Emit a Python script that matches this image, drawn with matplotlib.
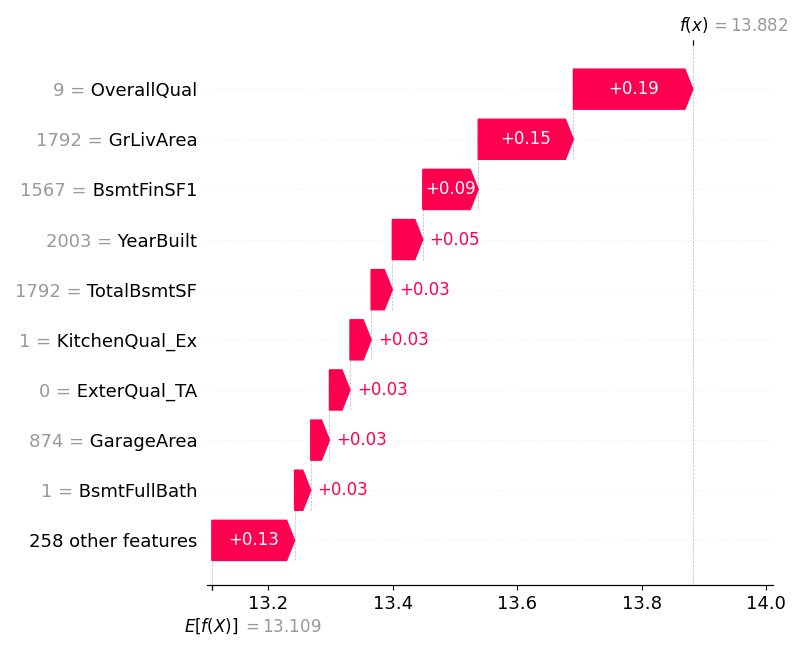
import numpy as np
import matplotlib
matplotlib.use("Agg")
import matplotlib.pyplot as plt
import matplotlib.transforms as mtrans

# ---- data ----
feature_names = ["OverallQual", "GrLivArea", "BsmtFinSF1", "YearBuilt", "TotalBsmtSF",
                 "KitchenQual_Ex", "ExterQual_TA", "GarageArea", "BsmtFullBath"]
feature_values = ["9", "1792", "1567", "2003", "1792", "1", "0", "874", "1"]
shap_values = [0.192, 0.153, 0.089, 0.049, 0.034, 0.034, 0.033, 0.030, 0.026]
other_count = 258
other_value = 0.133
base_value = 13.109

red = (1.0, 0.0, 0.3176)

fx = base_value + sum(shap_values) + other_value
num_features = len(feature_names) + 1

fig = plt.figure(figsize=(8, 6.5), dpi=100)
fig.subplots_adjust(left=0.2588, right=0.9659, top=0.9315, bottom=0.10)
ax = fig.add_subplot(111)
plt.sca(ax)

rows = list(range(num_features - 1, -1, -1))
pos_lefts, pos_inds, pos_widths = [], [], []
name_labels = ["" for _ in range(num_features)]
value_labels = ["" for _ in range(num_features)]
loc = fx
for i, (name, val, sv) in enumerate(zip(feature_names, feature_values, shap_values)):
    loc -= sv
    pos_inds.append(rows[i])
    pos_widths.append(sv)
    pos_lefts.append(loc)
    ax.plot([loc, loc], [rows[i] - 1 - 0.4, rows[i] + 0.4], color="#bbbbbb",
            linestyle="--", linewidth=0.5, zorder=-1)
    name_labels[rows[i]] = " " + name
    value_labels[rows[i]] = val + " ="

name_labels[0] = "%d other features" % other_count
pos_inds.append(0)
pos_widths.append(other_value)
pos_lefts.append(base_value)

pos_lefts = np.array(pos_lefts)
pos_widths = np.array(pos_widths)
points = list(pos_lefts) + list(pos_lefts + pos_widths)
dataw = np.max(points) - np.min(points)

label_padding = np.array([0.1 * dataw if w < 1 else 0 for w in pos_widths])
ax.barh(pos_inds, pos_widths + label_padding + 0.02 * dataw,
        left=pos_lefts - 0.01 * dataw, color=red, alpha=0)

head_length = 0.08
bar_width = 0.8
xlen = ax.get_xlim()[1] - ax.get_xlim()[0]
bbox = ax.get_window_extent().transformed(fig.dpi_scale_trans.inverted())
bbox_to_xscale = xlen / bbox.width
hl_scaled = bbox_to_xscale * head_length
renderer = fig.canvas.get_renderer()

for i in range(len(pos_inds)):
    dist = pos_widths[i]
    arrow_obj = ax.arrow(pos_lefts[i], pos_inds[i], max(dist - hl_scaled, 0.000001), 0,
                         head_length=min(dist, hl_scaled), color=red,
                         width=bar_width, head_width=bar_width)
    lab = "%+0.02f" % pos_widths[i]
    txt_obj = ax.text(pos_lefts[i] + 0.5 * dist, pos_inds[i], lab,
                      ha="center", va="center", color="white", fontsize=12)
    text_bbox = txt_obj.get_window_extent(renderer=renderer)
    arrow_bbox = arrow_obj.get_window_extent(renderer=renderer)
    if text_bbox.width > arrow_bbox.width:
        txt_obj.remove()
        ax.text(pos_lefts[i] + (5 / 72) * bbox_to_xscale + dist, pos_inds[i], lab,
                ha="left", va="center", color=red, fontsize=12)

ax.set_yticks(list(range(num_features)))
ax.set_yticklabels(name_labels, fontsize=13)

for i in range(num_features):
    ax.axhline(i, color="#cccccc", lw=0.5, dashes=(1, 5), zorder=-1)

ax.axvline(base_value, 0, 1 / num_features, color="#bbbbbb", linestyle="--", linewidth=0.5, zorder=-1)
ax.axvline(fx, 0, 1, color="#bbbbbb", linestyle="--", linewidth=0.5, zorder=-1)

ax.xaxis.set_ticks_position("bottom")
ax.yaxis.set_ticks_position("none")
for s in ["right", "top", "left"]:
    ax.spines[s].set_visible(False)
ax.tick_params(labelsize=13)

xmin, xmax = ax.get_xlim()
ax2 = ax.twiny()
ax2.set_xlim(xmin, xmax)
ax2.xaxis.tick_bottom()
ax2.set_xticks([base_value, base_value + 1e-8])
ax2.set_xticklabels(["$E[f(X)]$", "$ = " + ("%0.03f" % base_value) + "$"], fontsize=12, ha="left")
for s in ["right", "top", "left"]:
    ax2.spines[s].set_visible(False)

ax3 = ax2.twiny()
ax3.set_xlim(xmin, xmax)
ax3.xaxis.tick_top()
ax3.set_xticks([fx, fx + 1e-8])
ax3.set_xticklabels(["$f(x)$", "$ = " + ("%0.03f" % fx) + "$"], fontsize=12, ha="left")
tl = ax3.xaxis.get_majorticklabels()
tl[0].set_transform(tl[0].get_transform() + mtrans.ScaledTranslation(-10 / 72., 0, fig.dpi_scale_trans))
tl[1].set_transform(tl[1].get_transform() + mtrans.ScaledTranslation(12 / 72., 0, fig.dpi_scale_trans))
tl[1].set_color("#999999")
for s in ["right", "top", "left", "bottom"]:
    ax3.spines[s].set_visible(False)

drop = 16 / 72.
tl = ax2.xaxis.get_majorticklabels()
tl[0].set_transform(tl[0].get_transform() + mtrans.ScaledTranslation(-20 / 72., -drop, fig.dpi_scale_trans))
tl[1].set_transform(tl[1].get_transform() + mtrans.ScaledTranslation(22 / 72., -1 / 72. - drop, fig.dpi_scale_trans))
tl[1].set_color("#999999")

# gray feature values placed just left of the black feature names
fig.canvas.draw()
renderer = fig.canvas.get_renderer()
ylabels = ax.yaxis.get_majorticklabels()
fig_w_px = fig.get_figwidth() * fig.dpi
trans = mtrans.blended_transform_factory(fig.transFigure, ax.transData)
for i in range(num_features):
    if not value_labels[i]:
        continue
    bb = ylabels[i].get_window_extent(renderer=renderer)
    ax.text(bb.x0 / fig_w_px, i, value_labels[i], transform=trans, ha="right",
            va="center_baseline", fontsize=13, color="#999999", clip_on=False)

fig.savefig("out.png", dpi=100)
